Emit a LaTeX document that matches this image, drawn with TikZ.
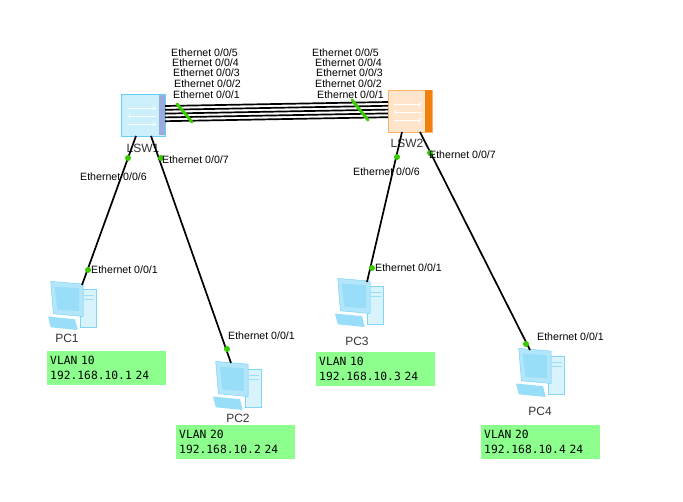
\documentclass[tikz,border=0pt]{standalone}
\usepackage{fontspec}
\setmainfont{Liberation Sans}
\newfontfamily\monof{DejaVu Sans Mono}
\begin{document}
\begin{tikzpicture}[x=1pt,y=-1pt,
 lbl/.style={font=\fontsize{10.6}{11}\selectfont,inner sep=0pt,anchor=west},
 nm/.style={font=\fontsize{12}{13}\selectfont,inner sep=0pt,text=black!80},
 dot/.style={circle,fill=green!70!black!70!lime,inner sep=0pt,minimum size=6pt},
 link/.style={line width=1.7pt},
 vbox/.style={fill=green!45,anchor=north west,inner xsep=3pt,inner ysep=2pt,font=\monof\fontsize{11.3}{15}\selectfont,align=left,text width=113pt,minimum height=34pt},
 pc/.pic={
  \begin{scope}[scale=1.35]
  \draw[cyan!50,fill=cyan!15] (4,-10) rectangle (16,18);
  \draw[cyan!40] (7,-6) -- (14,-6) (7,-3) -- (14,-3);
  \fill[cyan!40] (-20,10) -- (0,12) -- (2,20) -- (-18,18) -- cycle;
  \draw[cyan!60,fill=cyan!30] (-18,-16) -- (6,-14) -- (6,10) -- (-16,8) -- cycle;
  \fill[white!60!cyan] (-15,-12) -- (3,-11) -- (3,6) -- (-13,5) -- cycle;
  \end{scope}
 }]
\useasboundingbox (0,0) rectangle (683,502);
% switches
\node[draw=cyan!60,fill=cyan!20,minimum width=44pt,minimum height=42pt,inner sep=0pt] (s1) at (143,115) {};
\fill[cyan!35!blue!40] (159,95) rectangle (165,135);
\draw[white,thick,->] (128,108) -- (156,108);
\draw[white,thick,<-] (128,116) -- (156,116);
\draw[white,thick,->] (128,124) -- (156,124);
\node[nm] at (143,148) {LSW1};
\node[draw=orange!60,fill=orange!20,minimum width=44pt,minimum height=42pt,inner sep=0pt] (s2) at (410,111) {};
\fill[orange!80!brown] (425,90) rectangle (432,132);
\draw[white,thick,->] (394,104) -- (421,104);
\draw[white,thick,<-] (394,112) -- (421,112);
\draw[white,thick,->] (394,120) -- (421,120);
\node[nm] at (407,143) {LSW2};
\foreach \i in {0,...,4} {
 \draw[link] (165,106+\i*3.8) -- (388,102+\i*3.8);
}
\draw[line width=3pt,green!60!lime!80!black,line cap=round] (177,104) -- (192,122);
\draw[line width=3pt,green!60!lime!80!black,line cap=round] (352,100) -- (368,120);
\foreach \t/\y/\xa/\xb in {5/53/171/312,4/63/172/315,3/73/173/316,2/84/174/315,1/95/173/317} {
 \node[lbl] at (\xa,\y) {Ethernet 0/0/\t};
 \node[lbl] at (\xb,\y) {Ethernet 0/0/\t};
}
% PCs
\pic at (75,303) {pc}; \coordinate (p1) at (82,285);
\pic at (240,383) {pc}; \coordinate (p2) at (231,363);
\pic at (362,300) {pc}; \coordinate (p3) at (367,282);
\pic at (543,370) {pc}; \coordinate (p4) at (530,350);
\node[nm] at (67,338) {PC1};
\node[nm] at (238,418) {PC2};
\node[nm] at (357,341) {PC3};
\node[nm] at (540,411) {PC4};
% links
\draw[link] (136,136) -- (p1);
\draw[link] (151,136) -- (p2);
\draw[link] (402,132) -- (p3);
\draw[link] (420,132) -- (p4);
\node[dot] at (128,158) {}; \node[dot] at (88,270) {};
\node[dot] at (161,158) {}; \node[dot] at (227,349) {};
\node[dot] at (397,157) {}; \node[dot] at (372,268) {};
\node[dot] at (430,153) {}; \node[dot] at (526,344) {};
\node[lbl] at (80,177) {Ethernet 0/0/6};
\node[lbl] at (162,160) {Ethernet 0/0/7};
\node[lbl] at (91,270) {Ethernet 0/0/1};
\node[lbl] at (228,336) {Ethernet 0/0/1};
\node[lbl] at (353,172) {Ethernet 0/0/6};
\node[lbl] at (429,155) {Ethernet 0/0/7};
\node[lbl] at (375,268) {Ethernet 0/0/1};
\node[lbl] at (537,337) {Ethernet 0/0/1};
% VLAN boxes
\node[vbox] (v1) at (47,351) {VLAN 10\\192.168.10.1 24};
\node[vbox] (v2) at (176,425) {VLAN 20\\192.168.10.2 24};
\node[vbox] (v3) at (316,352) {VLAN 10\\192.168.10.3 24};
\node[vbox] (v4) at (481,425) {VLAN 20\\192.168.10.4 24};
\end{tikzpicture}
\end{document}
